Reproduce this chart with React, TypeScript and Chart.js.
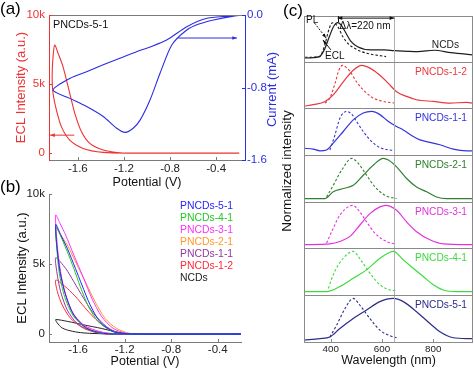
import React, { useEffect, useRef } from "react";
import { Chart, registerables } from "chart.js";

Chart.register(...registerables);

type P = [number, number];

// ---------------- axis ticks ----------------
const potentialTicks = [-1.6, -1.2, -0.8, -0.4];
const potentialTickLabels = ["-1.6", "-1.2", "-0.8", "-0.4"];
const eclTicks = [0, 5000, 10000];
const eclTickLabels = ["0", "5k", "10k"];
const currentTicks = [-1.6, -0.8, 0];
const currentTickLabels = ["-1.6", "-0.8", "0.0"];
const wavelengthTicks = [400, 600, 800];
const wavelengthTickLabels = ["400", "600", "800"];

// ---------------- panel (a) ----------------
const aSampleLabel = "PNCDs-5-1";
const aEcl: P[] = [
  [-0.2, 0], [-1.0, 0], [-1.1, 10], [-1.235, 20], [-1.38, 220], [-1.496, 700],
  [-1.568, 1540], [-1.626, 2880], [-1.67, 4330], [-1.728, 6250], [-1.77, 7200], [-1.8, 7830],
  [-1.815, 6980], [-1.823, 5500], [-1.815, 4330], [-1.785, 3100], [-1.742, 1900],
  [-1.67, 940], [-1.554, 340], [-1.38, 50], [-1.15, 0], [-0.2, 0],
];
const aCurrent: P[] = [
  [-0.15, 0], [-0.25, -0.012], [-0.423, -0.055], [-0.55, -0.1], [-0.655, -0.166], [-0.785, -0.331],
  [-0.887, -0.643], [-0.974, -0.938], [-1.06, -1.16], [-1.12, -1.25], [-1.19, -1.295], [-1.263, -1.25],
  [-1.38, -1.12], [-1.524, -1.01], [-1.67, -0.92], [-1.815, -0.828],
  [-1.67, -0.7], [-1.524, -0.626], [-1.38, -0.55], [-1.235, -0.478], [-1.09, -0.405], [-0.974, -0.353],
  [-0.829, -0.276], [-0.655, -0.129], [-0.48, -0.036], [-0.25, -0.008], [-0.15, 0],
];
const aEclArrow: P[] = [[-1.63, 1300], [-1.84, 1300]];
const aCurrentArrow: P[] = [[-0.73, -0.254], [-0.22, -0.254]];

// ---------------- panel (b) ----------------
const bNames = ["PNCDs-5-1", "PNCDs-4-1", "PNCDs-3-1", "PNCDs-2-1", "PNCDs-1-1", "PNCDs-1-2", "NCDs"];
const b51: P[] = [
  [-0.2, 0], [-1.05, 0], [-1.186, 30], [-1.299, 170], [-1.412, 880], [-1.496, 2070], [-1.567, 3500],
  [-1.623, 4690], [-1.693, 6120], [-1.75, 7100], [-1.792, 7830], [-1.783, 6360], [-1.755, 4450],
  [-1.707, 2790], [-1.637, 1360], [-1.524, 405], [-1.383, 50], [-1.2, 0], [-0.2, 0],
];
const b41: P[] = [
  [-0.2, 0], [-1.05, 0], [-1.214, 30], [-1.313, 220], [-1.426, 880], [-1.51, 1950], [-1.581, 3380],
  [-1.637, 4690], [-1.699, 6000], [-1.75, 7000], [-1.792, 7670], [-1.783, 6120], [-1.761, 4330],
  [-1.716, 2670], [-1.643, 1310], [-1.53, 405], [-1.397, 50], [-1.2, 0], [-0.2, 0],
];
const b31: P[] = [
  [-0.2, 0], [-1.05, 0], [-1.186, 50], [-1.299, 405], [-1.397, 1240], [-1.482, 2550], [-1.552, 3980],
  [-1.637, 5640], [-1.707, 7070], [-1.755, 7900], [-1.792, 8500], [-1.786, 7070], [-1.764, 5170],
  [-1.722, 3260], [-1.651, 1600], [-1.552, 640], [-1.412, 170], [-1.271, 0], [-0.2, 0],
];
const b21: P[] = [
  [-0.2, 0], [-1.05, 0], [-1.158, 50], [-1.271, 405], [-1.369, 1120], [-1.454, 2310], [-1.524, 3500],
  [-1.609, 4930], [-1.693, 6360], [-1.75, 7100], [-1.792, 7600], [-1.778, 5880], [-1.744, 3980],
  [-1.679, 2070], [-1.595, 880], [-1.468, 240], [-1.3, 30], [-1.1, 0], [-0.2, 0],
];
const b11: P[] = [
  [-0.2, 0], [-1.1, 0], [-1.243, 50], [-1.355, 520], [-1.468, 1480], [-1.552, 2550], [-1.637, 3740],
  [-1.707, 4690], [-1.792, 5450], [-1.783, 4450], [-1.75, 3020], [-1.693, 1710], [-1.609, 760],
  [-1.468, 170], [-1.327, 0], [-0.2, 0],
];
const b12: P[] = [
  [-0.2, 0], [-1.05, 0], [-1.214, 30], [-1.327, 290], [-1.426, 880], [-1.524, 1710], [-1.609, 2550],
  [-1.693, 3260], [-1.792, 3860], [-1.778, 3020], [-1.736, 2070], [-1.665, 1120], [-1.552, 405],
  [-1.412, 50], [-1.25, 0], [-0.2, 0],
];
const bNcds: P[] = [
  [-0.2, 0], [-1.1, 0], [-1.2, 50], [-1.3, 200], [-1.4, 400], [-1.55, 650], [-1.69, 900], [-1.792, 1030],
  [-1.78, 800], [-1.74, 450], [-1.69, 280], [-1.6, 120], [-1.5, 50], [-1.3, 0], [-0.2, 0],
];
const bSeries = [b51, b41, b31, b21, b11, b12, bNcds];

// ---------------- panel (c) ----------------
const cNames = ["NCDs", "PNCDs-1-2", "PNCDs-1-1", "PNCDs-2-1", "PNCDs-3-1", "PNCDs-4-1", "PNCDs-5-1"];
const cNcdsEcl: P[] = [
  [296, 0], [304, 0], [356, 0.04], [375, 0.23], [395, 0.61], [412, 0.9], [427, 1.0], [440, 0.94],
  [460, 0.7], [479, 0.47], [505, 0.32], [557, 0.23], [609, 0.23], [648, 0.21], [700, 0.19],
  [740, 0.18], [804, 0.22], [869, 0.15], [955, 0.09],
];
const cNcdsPl: P[] = [
  [300, 0.02], [356, 0.04], [375, 0.32], [395, 0.85], [408, 1.0], [427, 0.9], [447, 0.61],
  [466, 0.42], [505, 0.23], [544, 0.13], [616, 0.04],
];
const c12Ecl: P[] = [
  [296, -0.04], [332, 0], [378, 0.08], [410, 0.25], [449, 0.58], [488, 0.875], [521, 1.0], [553, 0.93],
  [592, 0.75], [625, 0.54], [657, 0.33], [696, 0.21], [735, 0.125], [800, 0.083], [865, 0.04],
  [930, 0.058], [955, 0.04],
];
const c12Pl: P[] = [
  [378, 0.04], [397, 0.17], [417, 0.54], [432, 0.875], [446, 1.0], [462, 0.94], [475, 0.85],
  [501, 0.58], [534, 0.33], [566, 0.17], [605, 0.083], [651, 0.04],
];
const c11Ecl: P[] = [
  [296, 0.083], [332, 0.06], [358, 0.02], [384, 0.04], [410, 0.21], [449, 0.5], [488, 0.79],
  [527, 0.96], [560, 1.0], [592, 0.92], [625, 0.75], [657, 0.625], [683, 0.54], [722, 0.375],
  [748, 0.29], [774, 0.25], [826, 0.17], [878, 0.06], [930, 0.02], [955, 0.02],
];
const c11Pl: P[] = [
  [397, 0.04], [417, 0.42], [436, 0.83], [462, 1.0], [482, 0.93], [501, 0.75], [527, 0.5],
  [560, 0.25], [592, 0.1], [651, 0.02],
];
const c21Ecl: P[] = [
  [296, 0], [378, 0], [410, 0.17], [449, 0.25], [488, 0.33], [527, 0.58], [566, 0.83], [605, 1.0],
  [625, 0.96], [657, 0.79], [696, 0.5], [735, 0.29], [774, 0.17], [813, 0.04], [852, 0], [955, 0],
];
const c21Pl: P[] = [
  [384, 0.04], [410, 0.33], [443, 0.71], [482, 1.0], [508, 0.875], [540, 0.58], [573, 0.29],
  [612, 0.08], [657, 0],
];
const c31Ecl: P[] = [
  [296, 0], [397, 0.02], [436, 0.08], [475, 0.21], [514, 0.5], [553, 0.79], [592, 0.96], [615, 1.0],
  [657, 0.875], [696, 0.58], [735, 0.33], [787, 0.125], [839, 0.02], [955, 0],
];
const c31Pl: P[] = [
  [384, 0.04], [404, 0.33], [436, 0.75], [486, 1.0], [514, 0.83], [540, 0.58], [573, 0.29],
  [618, 0.08], [651, 0.02],
];
const c41Ecl: P[] = [
  [296, 0], [384, 0], [436, 0.125], [488, 0.33], [540, 0.54], [592, 0.83], [631, 0.98], [645, 1.0],
  [683, 0.79], [722, 0.58], [761, 0.375], [800, 0.17], [839, 0.04], [891, 0], [955, 0],
];
const c41Pl: P[] = [
  [391, 0.08], [410, 0.42], [449, 0.83], [488, 1.0], [521, 0.75], [553, 0.46], [592, 0.17],
  [631, 0.04], [657, 0.02],
];
const c51Ecl: P[] = [
  [296, -0.04], [358, 0], [397, 0.04], [436, 0.25], [488, 0.5], [540, 0.71], [592, 0.92], [644, 1.0],
  [683, 0.92], [735, 0.67], [787, 0.375], [826, 0.17], [878, 0.02], [930, 0], [955, 0],
];
const c51Pl: P[] = [
  [397, 0.04], [423, 0.33], [456, 0.75], [488, 1.0], [514, 0.83], [553, 0.5], [592, 0.21],
  [631, 0.07], [657, 0.02],
];
const cEclSeries = [cNcdsEcl, c12Ecl, c11Ecl, c21Ecl, c31Ecl, c41Ecl, c51Ecl];
const cPlSeries = [cNcdsPl, c12Pl, c11Pl, c21Pl, c31Pl, c41Pl, c51Pl];
const cMarkerWavelength = 648;
const cShiftArrow: P[] = [[427, 1.13], [648, 1.13]];
const cShiftText: P = [534, 0.9];
const cShiftLabel = "Δλ=220 nm";
const cPlArrow: P[] = [[337, 0.99], [382, 0.57]];
const cPlText: P = [304, 1.06];
const cEclArrow: P[] = [[401, 0.23], [370, 0.51]];
const cEclText: P = [378, 0.05];

// ---------------- styles / layout ----------------
const W = 474;
const H = 370;
const FONT = "'Liberation Sans', Arial, Helvetica, sans-serif";
const RED_A = "#ee3232";
const BLUE_A = "#2c2ce2";
const AXIS = "#7a7a7a";
const bColors = ["#2424ff", "#22c822", "#ff30ff", "#ff9a2a", "#8e3a9e", "#ff2a3a", "#222222"];
const cColors = ["#1e1e1e", "#e8383e", "#3535da", "#2f802f", "#e232dc", "#3cdc3c", "#2c2c8a"];
const C_BOX = [16, 62, 108, 155, 202, 248, 295, 342];
const C_RANGE_NCDS: [number, number] = [-0.113, 1.19];
const C_RANGE: [number, number] = [-0.085, 1.085];

Chart.defaults.font.family = FONT;

const fnt = (s: number) => `${s}px ${FONT}`;
const pts = (arr: P[]) => arr.map(([x, y]) => ({ x, y }));

function drawText(ctx: any, s: string, x: number, y: number, size: number, color: string,
  align: CanvasTextAlign = "left", rot = 0) {
  ctx.save();
  ctx.font = fnt(size);
  ctx.fillStyle = color;
  ctx.textAlign = align;
  ctx.textBaseline = "middle";
  ctx.translate(x, y);
  if (rot) ctx.rotate(rot);
  ctx.fillText(s, 0, 0);
  ctx.restore();
}

function head(ctx: any, x1: number, y1: number, x2: number, y2: number, size: number, color: string) {
  const a = Math.atan2(y2 - y1, x2 - x1);
  ctx.save();
  ctx.setLineDash([]);
  ctx.fillStyle = color;
  ctx.beginPath();
  ctx.moveTo(x2, y2);
  ctx.lineTo(x2 - size * Math.cos(a - 0.38), y2 - size * Math.sin(a - 0.38));
  ctx.lineTo(x2 - size * Math.cos(a + 0.38), y2 - size * Math.sin(a + 0.38));
  ctx.closePath();
  ctx.fill();
  ctx.restore();
}

function drawArrow(ctx: any, x1: number, y1: number, x2: number, y2: number, color: string,
  o: { dash?: number[]; start?: boolean; size?: number; width?: number } = {}) {
  const size = o.size ?? 5;
  ctx.save();
  ctx.strokeStyle = color;
  ctx.lineWidth = o.width ?? 1;
  ctx.setLineDash(o.dash ?? []);
  ctx.beginPath();
  ctx.moveTo(x1, y1);
  ctx.lineTo(x2, y2);
  ctx.stroke();
  ctx.restore();
  head(ctx, x1, y1, x2, y2, size, color);
  if (o.start) head(ctx, x2, y2, x1, y1, size, color);
}

function inwardTicks(ctx: any, scale: any, len: number, color: string) {
  ctx.save();
  ctx.strokeStyle = color;
  ctx.lineWidth = 1;
  ctx.beginPath();
  for (const t of scale.ticks) {
    const p = Math.round(scale.getPixelForValue(t.value)) + 0.5;
    if (scale.isHorizontal()) {
      const y0 = scale.top;
      ctx.moveTo(p, y0);
      ctx.lineTo(p, y0 - len);
    } else if (scale.position === "left") {
      ctx.moveTo(scale.right, p);
      ctx.lineTo(scale.right + len, p);
    } else {
      ctx.moveTo(scale.left, p);
      ctx.lineTo(scale.left - len, p);
    }
  }
  ctx.stroke();
  ctx.restore();
}

function setTicks(values: number[]) {
  return (scale: any) => {
    scale.ticks = values.map((v) => ({ value: v }));
  };
}
function fixH(h: number) {
  return (scale: any) => { scale.height = h; };
}
function fixW(w: number) {
  return (scale: any) => { scale.width = w; };
}

const baseOptions = {
  responsive: false,
  animation: false,
  events: [],
  plugins: { legend: { display: false }, tooltip: { enabled: false } },
};

function lineDs(data: P[], color: string, extra: any = {}) {
  return {
    data: pts(data),
    borderColor: color,
    backgroundColor: color,
    borderWidth: 1.1,
    showLine: true,
    pointRadius: 0,
    fill: false,
    tension: 0.3,
    ...extra,
  };
}

// ---------------- chart configs ----------------
function configA() {
  const overlay = {
    id: "overlayA",
    afterDraw(chart: any) {
      const { ctx, chartArea: ca, scales } = chart;
      const { x, y, y2 } = scales;
      ctx.save();
      ctx.strokeStyle = AXIS;
      ctx.lineWidth = 1;
      ctx.beginPath();
      ctx.moveTo(ca.left, Math.round(ca.top) + 0.5);
      ctx.lineTo(ca.right, Math.round(ca.top) + 0.5);
      ctx.stroke();
      ctx.restore();
      inwardTicks(ctx, x, 3, AXIS);
      inwardTicks(ctx, y, 3, RED_A);
      inwardTicks(ctx, y2, 3, BLUE_A);
      drawArrow(ctx, x.getPixelForValue(aEclArrow[0][0]), y.getPixelForValue(aEclArrow[0][1]),
        x.getPixelForValue(aEclArrow[1][0]), y.getPixelForValue(aEclArrow[1][1]), RED_A);
      drawArrow(ctx, x.getPixelForValue(aCurrentArrow[0][0]), y2.getPixelForValue(aCurrentArrow[0][1]),
        x.getPixelForValue(aCurrentArrow[1][0]), y2.getPixelForValue(aCurrentArrow[1][1]), BLUE_A);
      drawText(ctx, aSampleLabel, ca.left + 4, ca.top + 10, 10.8, "#111");
      drawText(ctx, "(a)", 0, 9.5, 17, "#000");
      drawText(ctx, "Current (mA)", y2.left + 27, (ca.top + ca.bottom) / 2 + 2, 13, BLUE_A, "center", -Math.PI / 2);
    },
  };
  return {
    type: "scatter",
    data: {
      datasets: [
        lineDs(aCurrent, BLUE_A, { yAxisID: "y2", tension: 0.25 }),
        lineDs(aEcl, RED_A, { yAxisID: "y", tension: 0.25 }),
      ],
    },
    options: {
      ...baseOptions,
      layout: { padding: { left: 0, top: 15, right: W - 290, bottom: H - 190 } },
      scales: {
        x: {
          type: "linear", position: "bottom", min: -1.85, max: -0.15,
          afterFit: fixH(30), afterBuildTicks: setTicks(potentialTicks),
          ticks: { callback: (_v: any, i: number) => potentialTickLabels[i], font: { size: 11.5 }, color: "#222", padding: 2, maxRotation: 0, autoSkip: false },
          grid: { display: false, drawTicks: false },
          border: { display: true, color: AXIS },
          title: { display: true, text: "Potential (V)", font: { size: 12.5 }, color: "#111", padding: { top: 0, bottom: 0 } },
        },
        y: {
          type: "linear", position: "left", min: -500, max: 10000,
          afterFit: fixW(49), afterBuildTicks: setTicks(eclTicks),
          ticks: { callback: (_v: any, i: number) => eclTickLabels[i], font: { size: 11.5 }, color: RED_A, padding: 4 },
          grid: { display: false, drawTicks: false },
          border: { display: true, color: RED_A },
          title: { display: true, text: "ECL Intensity (a.u.)", font: { size: 13 }, color: RED_A, padding: { top: 14, bottom: 0 } },
        },
        y2: {
          type: "linear", position: "right", min: -1.6, max: 0,
          afterFit: fixW(45), afterBuildTicks: setTicks(currentTicks),
          ticks: { callback: (_v: any, i: number) => currentTickLabels[i], font: { size: 11.5 }, color: BLUE_A, padding: 2 },
          grid: { display: false, drawTicks: false },
          border: { display: true, color: BLUE_A },
        },
      },
    },
    plugins: [overlay],
  };
}

function configB() {
  const overlay = {
    id: "overlayB",
    afterDraw(chart: any) {
      const { ctx, chartArea: ca, scales } = chart;
      inwardTicks(ctx, scales.x, 3, AXIS);
      inwardTicks(ctx, scales.y, 3, AXIS);
      bNames.forEach((n, k) => {
        drawText(ctx, n, ca.left + 131, ca.top + 11.7 + 12.1 * k, 10.4, bColors[k]);
      });
      drawText(ctx, "(b)", 0, 187.5, 17, "#000");
    },
  };
  return {
    type: "scatter",
    data: { datasets: bSeries.map((s, k) => lineDs(s, bColors[k], { borderWidth: 1, tension: 0.25 })) },
    options: {
      ...baseOptions,
      layout: { padding: { left: 0, top: 194, right: W - 241, bottom: 0 } },
      scales: {
        x: {
          type: "linear", position: "bottom", min: -1.85, max: -0.2,
          afterFit: fixH(28), afterBuildTicks: setTicks(potentialTicks),
          ticks: { callback: (_v: any, i: number) => potentialTickLabels[i], font: { size: 11.5 }, color: "#222", padding: 1, maxRotation: 0, autoSkip: false },
          grid: { display: false, drawTicks: false },
          border: { display: true, color: AXIS },
          title: { display: true, text: "Potential (V)", font: { size: 12.5 }, color: "#111", padding: { top: 0, bottom: 0.5 } },
        },
        y: {
          type: "linear", position: "left", min: -570, max: 10000,
          afterFit: fixW(49), afterBuildTicks: setTicks(eclTicks),
          ticks: { callback: (_v: any, i: number) => eclTickLabels[i], font: { size: 11.5 }, color: "#222", padding: 4 },
          grid: { display: false, drawTicks: false },
          border: { display: true, color: AXIS },
          title: { display: true, text: "ECL Intensity (a.u.)", font: { size: 13 }, color: "#111", padding: { top: 15, bottom: 0 } },
        },
      },
    },
    plugins: [overlay],
  };
}

function configC(i: number) {
  const top = C_BOX[i];
  const bottom = C_BOX[i + 1];
  const last = i === cNames.length - 1;
  const range = i === 0 ? C_RANGE_NCDS : C_RANGE;
  const color = cColors[i];
  const overlay = {
    id: "overlayC" + i,
    afterDraw(chart: any) {
      const { ctx, chartArea: ca, scales } = chart;
      const { x, y } = scales;
      const px = (v: number) => x.getPixelForValue(v);
      const py = (v: number) => y.getPixelForValue(v);
      ctx.save();
      const mx = Math.round(px(cMarkerWavelength)) + 0.5;
      ctx.strokeStyle = "#b0b0b0";
      ctx.lineWidth = 1;
      ctx.beginPath();
      ctx.moveTo(mx, ca.top);
      ctx.lineTo(mx, ca.bottom);
      ctx.stroke();
      ctx.strokeStyle = "#8a8a8a";
      ctx.strokeRect(Math.round(ca.left) + 0.5, Math.round(ca.top) + 0.5,
        Math.round(ca.right - ca.left) - 1, Math.round(ca.bottom - ca.top));
      ctx.restore();
      if (last) inwardTicks(ctx, x, 3, "#8a8a8a");
      if (i === 0) {
        drawText(ctx, cNames[i], ca.right - 14, ca.top + 29, 10.2, color, "right");
        drawText(ctx, "(c)", 283, 11.7, 17, "#000");
        drawText(ctx, "Normalized intensity", 287, 171, 13.5, "#111", "center", -Math.PI / 2);
        const ax1 = px(cShiftArrow[0][0]);
        const ax2 = px(cShiftArrow[1][0]);
        const ay = py(cShiftArrow[0][1]);
        drawArrow(ctx, ax1, ay, ax2, ay, "#111", { start: true, size: 5 });
        ctx.save();
        ctx.strokeStyle = "#111";
        ctx.beginPath();
        ctx.moveTo(Math.round(ax1) + 0.5, ca.top);
        ctx.lineTo(Math.round(ax1) + 0.5, ay + 4);
        ctx.stroke();
        ctx.restore();
        drawText(ctx, cShiftLabel, px(cShiftText[0]), py(cShiftText[1]), 10, "#111", "center");
        drawText(ctx, "PL", px(cPlText[0]), py(cPlText[1]), 10, "#111");
        drawArrow(ctx, px(cPlArrow[0][0]), py(cPlArrow[0][1]), px(cPlArrow[1][0]), py(cPlArrow[1][1]), "#111", { dash: [2, 1.5], size: 4.5 });
        drawText(ctx, "ECL", px(cEclText[0]), py(cEclText[1]), 10, "#111");
        drawArrow(ctx, px(cEclArrow[0][0]), py(cEclArrow[0][1]), px(cEclArrow[1][0]), py(cEclArrow[1][1]), "#111", { size: 4.5 });
      } else {
        drawText(ctx, cNames[i], ca.right - 6, ca.top + 10.5, 10.2, color, "right");
      }
    },
  };
  const xScale: any = {
    type: "linear", position: "bottom", min: 296, max: 955, display: last,
    afterBuildTicks: setTicks(wavelengthTicks),
    ticks: { callback: (_v: any, i2: number) => wavelengthTickLabels[i2], font: { size: 9.8 }, color: "#222", padding: 1, maxRotation: 0, autoSkip: false },
    grid: { display: false, drawTicks: false },
    border: { display: false },
    title: { display: true, text: "Wavelength (nm)", font: { size: 12.5 }, color: "#111", padding: { top: 0, bottom: 2 } },
  };
  if (last) xScale.afterFit = fixH(28);
  return {
    type: "scatter",
    data: {
      datasets: [
        lineDs(cEclSeries[i], color, { borderWidth: 1.2, tension: 0, cubicInterpolationMode: "monotone" }),
        lineDs(cPlSeries[i], color, { borderWidth: 1.1, tension: 0, cubicInterpolationMode: "monotone", borderDash: [2.5, 2] }),
      ],
    },
    options: {
      ...baseOptions,
      layout: { padding: { left: 304, right: 1, top, bottom: last ? 0 : H - bottom } },
      scales: {
        x: xScale,
        y: { type: "linear", min: range[0], max: range[1], display: false },
      },
    },
    plugins: [overlay],
  };
}

function ChartCanvas({ make }: { make: () => any }) {
  const ref = useRef<HTMLCanvasElement | null>(null);
  useEffect(() => {
    const chart = new Chart(ref.current as HTMLCanvasElement, make());
    return () => chart.destroy();
  }, []);
  return (
    <canvas
      ref={ref}
      width={W}
      height={H}
      style={{ position: "absolute", left: 0, top: 0, width: W, height: H }}
    />
  );
}

export default function App() {
  return (
    <div style={{ position: "absolute", left: 0, top: 0, width: W, height: H, background: "#fff", overflow: "hidden" }}>
      <ChartCanvas make={configA} />
      <ChartCanvas make={configB} />
      {cNames.map((_n, i) => (
        <ChartCanvas key={i} make={() => configC(i)} />
      ))}
    </div>
  );
}
